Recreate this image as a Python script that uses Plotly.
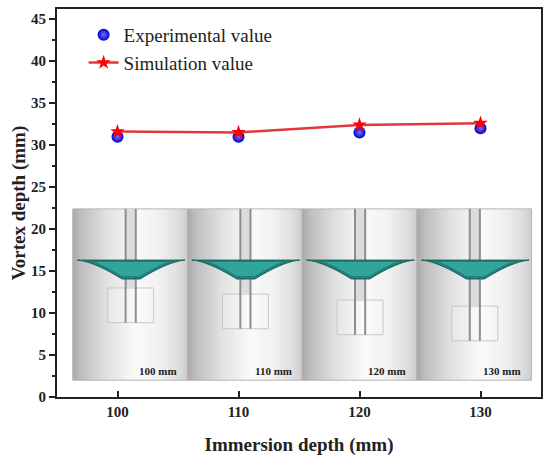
import numpy as np
import plotly.graph_objects as go

# data
immersion_depth = [100, 110, 120, 130]
experimental = [31.0, 31.0, 31.5, 32.0]
simulation = [31.6, 31.5, 32.4, 32.6]
panel_labels = ["100 mm", "110 mm", "120 mm", "130 mm"]

SERIF = "Liberation Serif"

fig = go.Figure()

fig.add_trace(go.Scatter(
    x=immersion_depth, y=experimental,
    mode="markers", name="Experimental value",
    marker=dict(symbol="circle", size=12, color="#0000c8",
                gradient=dict(type="radial", color="#7070ff"),
                line=dict(width=0)),
))

fig.add_trace(go.Scatter(
    x=immersion_depth, y=simulation,
    mode="lines+markers", name="Simulation value",
    line=dict(color="#e2383d", width=2.5),
    marker=dict(symbol="star", size=11, color="#ff0000", line=dict(width=0)),
))

# inset sketches of the stirred vessel (decoration, drawn in data units)
shapes = []
annotations = []
panel_x0 = 96.3
panel_w = 9.48
panel_bottom, panel_top = 2.0, 22.4
# cylinder shading: gray level across the panel
shade_u = [0.0, 0.08, 0.3, 0.55, 0.75, 0.92, 1.0]
shade_g = [170, 192, 226, 250, 242, 222, 205]
n_strips = 48

for i, d in enumerate(immersion_depth):
    x0 = panel_x0 + i * panel_w
    x1 = x0 + panel_w
    cx = (x0 + x1) / 2 + 0.05
    sw = panel_w / n_strips
    for k in range(n_strips):
        u = (k + 0.5) / n_strips
        g = int(np.interp(u, shade_u, shade_g))
        shapes.append(dict(type="rect", xref="x", yref="y", layer="below",
                           x0=x0 + k * sw,
                           x1=min(x0 + (k + 2) * sw, x1),
                           y0=panel_bottom, y1=panel_top,
                           fillcolor=f"rgb({g},{g},{g})", line=dict(width=0)))
    shapes.append(dict(type="rect", xref="x", yref="y", layer="below",
                       x0=x0, x1=x1, y0=panel_bottom, y1=panel_top,
                       fillcolor="rgba(0,0,0,0)", line=dict(color="#b5b5b5", width=1)))

    # impeller box, lower for deeper immersion
    imp_top = 12.98 - (d - 100) * 0.072
    imp_bot = imp_top - 4.13
    shapes.append(dict(type="rect", xref="x", yref="y", layer="below",
                       x0=cx - 1.9, x1=cx + 1.9, y0=imp_bot, y1=imp_top,
                       fillcolor="rgba(255,255,255,0.15)",
                       line=dict(color="#c8c8c8", width=1)))

    # shaft
    shapes.append(dict(type="rect", xref="x", yref="y", layer="below",
                       x0=cx - 0.45, x1=cx + 0.45, y0=imp_top, y1=panel_top,
                       fillcolor="#dcdcdc", line=dict(width=0)))
    for sx in (cx - 0.42, cx + 0.42):
        shapes.append(dict(type="line", xref="x", yref="y", layer="below",
                           x0=sx, x1=sx, y0=imp_bot, y1=panel_top,
                           line=dict(color="#8e8e8e", width=2)))

    # free-surface vortex
    top, depth = 16.3, 2.25
    left, right = x0 + 0.37, x1 - 0.2
    half = (right - left) / 2
    vc = (left + right) / 2
    xs = np.linspace(left, right, 61)
    r = np.abs(xs - vc) / half
    s = np.clip((r - 0.17) / 0.83, 0, 1)
    ys = top - depth * (1 - s) ** 1.5
    path = "M " + " L ".join(f"{a:.3f},{b:.3f}" for a, b in zip(xs, ys)) + " Z"
    shapes.append(dict(type="path", xref="x", yref="y", layer="below", path=path,
                       fillcolor="#22807a", line=dict(color="#1b5e59", width=1)))
    inner = ys + 0.35
    m = inner < top - 0.2
    xi, yi = xs[m], inner[m]
    path2 = "M " + " L ".join(f"{a:.3f},{b:.3f}" for a, b in zip(xi, yi)) + " Z"
    shapes.append(dict(type="path", xref="x", yref="y", layer="below", path=path2,
                       fillcolor="rgba(60,190,175,0.6)", line=dict(width=0)))

    annotations.append(dict(x=x1 - 0.7, y=3.1, xref="x", yref="y",
                            text=panel_labels[i], showarrow=False,
                            xanchor="right", yanchor="middle",
                            font=dict(family=SERIF, size=11, color="#222",
                                      weight="bold")))

fig.update_layout(
    width=550, height=463,
    margin=dict(l=57, r=9, t=9, b=66),
    paper_bgcolor="white", plot_bgcolor="white",
    showlegend=True,
    legend=dict(x=0.055, y=0.982, xanchor="left", yanchor="top",
                bgcolor="rgba(0,0,0,0)", font=dict(family=SERIF, size=19, color="#222")),
    shapes=shapes,
    annotations=annotations,
)

fig.update_xaxes(
    range=[95, 135], tickvals=immersion_depth, automargin=False,
    ticks="inside", ticklen=6, tickwidth=2, tickcolor="#222",
    showline=True, linewidth=2, linecolor="#222", mirror=True,
    showgrid=False, zeroline=False,
    tickfont=dict(family=SERIF, size=15, color="#222", weight="bold"),
    title=dict(text="Immersion depth (mm)", standoff=19,
               font=dict(family=SERIF, size=19, color="#222", weight="bold")),
)

fig.update_yaxes(
    range=[0, 46.2], dtick=5, automargin=False,
    ticks="outside", ticklen=6, tickwidth=2, tickcolor="#222",
    minor=dict(dtick=2.5, ticks="outside", ticklen=3, tickwidth=1.5, tickcolor="#222"),
    showline=True, linewidth=2, linecolor="#222", mirror=True,
    showgrid=False, zeroline=False,
    tickfont=dict(family=SERIF, size=15, color="#222", weight="bold"),
    title=dict(text="Vortex depth (mm)", standoff=0,
               font=dict(family=SERIF, size=19, color="#222", weight="bold")),
)

# page body has a default 8px margin; drop it so the figure sits at the window origin
fig.write_html("out.html", config={"displayModeBar": False},
               post_script="document.body.style.margin='0';")
